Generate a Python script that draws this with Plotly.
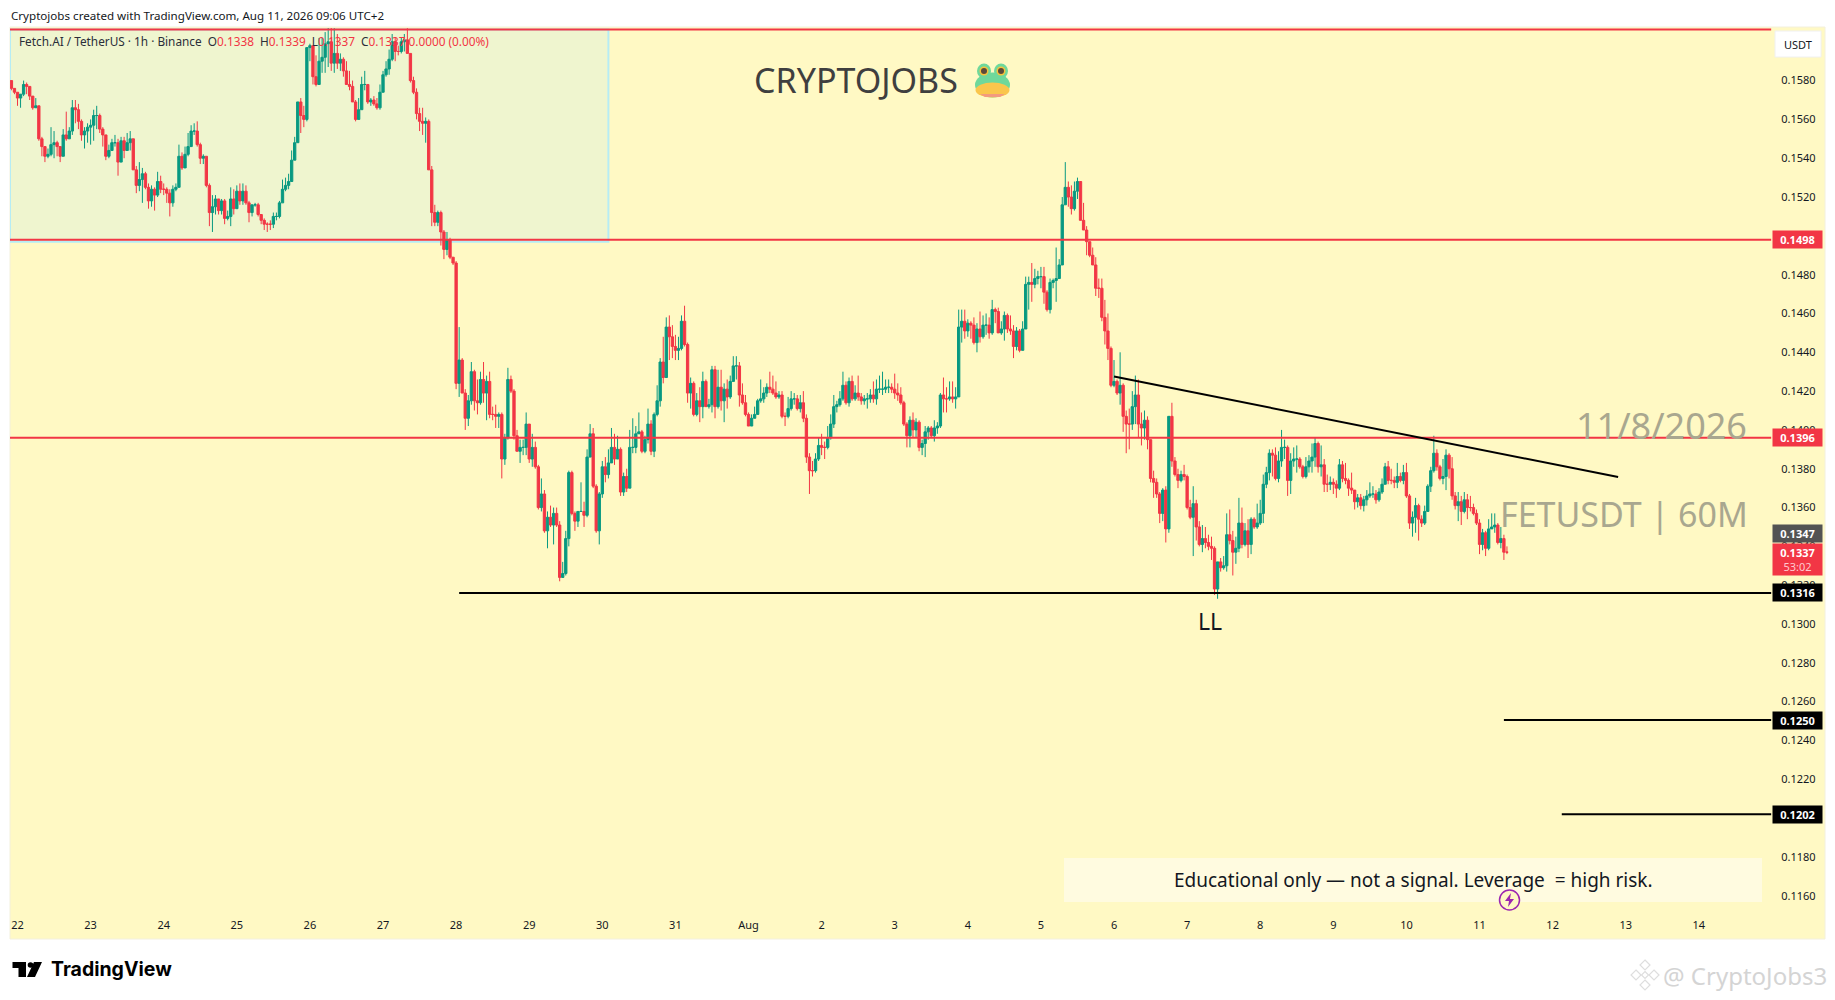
import plotly.graph_objects as go
from datetime import datetime, timedelta

first_open = .1580
start_time = datetime(2026, 7, 21, 22, 0)

close_a = [.1576,.1574,.1571,.1573,.1578,.1577,.1572,.1566,.1567,.1550,
 .1546,.1541,.1542,.1547,.1548,.1546,.1541,.1552,.1550,.1554,
 .1566,.1565,.1559,.1552,.1554,.1556,.1557,.1562,.1562,.1555,
 .1552,.1541,.1544,.1548,.1548,.1538,.1549,.1544,.1548,.1550,
 .1534,.1526,.1529,.1532,.1525,.1518,.1524,.1521,.1528,.1524,
 .1524,.1522,.1517,.1524,.1525,.1541,.1535,.1542,.1546,.1554,
 .1554,.1547,.1540,.1541,.1526,.1512,.1515,.1519,.1513,.1518,
 .1509,.1510,.1519,.1514,.1523,.1518,.1523,.1517,.1512,.1516,
 .1516,.1511,.1508,.1506,.1506,.1506,.1510,.1510,.1517,.1524,
 .1526,.1528,.1539,.1548,.1569,.1562,.1560,.1597,.1598,.1582,
 .1578,.1590,.1592,.1599,.1600,.1589,.1594,.1589,.1591,.1585,
 .1578,.1577,.1569,.1560,.1565,.1578,.1578,.1569,.1570,.1568,
 .1566,.1574,.1583,.1586,.1591,.1600,.1595,.1595,.1600,.1601,
 .1594,.1580,.1574,.1563,.1559,.1558,.1559,.1534,.1512,.1507,
 .1512,.1502,.1493,.1498,.1489,.1486]
high_a = [.1580,.1576,.1574,.1573,.1580,.1579,.1577,.1572,.1571,.1567,
 .1551,.1546,.1545,.1556,.1554,.1549,.1546,.1555,.1564,.1556,
 .1570,.1570,.1568,.1560,.1556,.1558,.1560,.1565,.1567,.1563,
 .1556,.1552,.1547,.1550,.1552,.1550,.1551,.1551,.1553,.1554,
 .1550,.1536,.1538,.1535,.1533,.1527,.1526,.1525,.1533,.1531,
 .1527,.1525,.1524,.1526,.1527,.1547,.1543,.1546,.1553,.1557,
 .1558,.1559,.1548,.1542,.1540,.1527,.1521,.1521,.1519,.1519,
 .1519,.1513,.1525,.1524,.1526,.1527,.1527,.1526,.1518,.1516,
 .1517,.1517,.1510,.1509,.1507,.1508,.1512,.1512,.1518,.1529,
 .1530,.1532,.1544,.1551,.1569,.1571,.1567,.1597,.1599,.1598,
 .1593,.1602,.1602,.1605,.1608,.1608,.1607,.1604,.1594,.1592,
 .1590,.1585,.1580,.1570,.1571,.1582,.1585,.1578,.1571,.1572,
 .1571,.1578,.1585,.1590,.1596,.1604,.1602,.1598,.1602,.1604,
 .1607,.1594,.1582,.1576,.1566,.1566,.1561,.1560,.1536,.1516,
 .1513,.1513,.1503,.1502,.1499,.1489]
low_a = [.1575,.1573,.1567,.1566,.1572,.1573,.1570,.1565,.1566,.1549,
 .1541,.1538,.1540,.1541,.1540,.1541,.1538,.1541,.1549,.1550,
 .1552,.1558,.1555,.1549,.1545,.1548,.1547,.1549,.1555,.1553,
 .1546,.1539,.1540,.1544,.1546,.1531,.1541,.1540,.1544,.1544,
 .1534,.1522,.1523,.1517,.1524,.1514,.1515,.1513,.1520,.1522,
 .1521,.1517,.1510,.1515,.1523,.1525,.1534,.1535,.1541,.1546,
 .1552,.1546,.1537,.1537,.1525,.1505,.1502,.1511,.1511,.1511,
 .1506,.1508,.1505,.1511,.1515,.1516,.1516,.1516,.1507,.1510,
 .1515,.1510,.1506,.1503,.1502,.1503,.1504,.1508,.1509,.1517,
 .1523,.1524,.1528,.1539,.1548,.1553,.1556,.1559,.1590,.1578,
 .1577,.1578,.1584,.1584,.1587,.1585,.1584,.1586,.1585,.1582,
 .1578,.1575,.1569,.1559,.1560,.1565,.1575,.1568,.1567,.1567,
 .1565,.1565,.1574,.1582,.1583,.1590,.1590,.1593,.1594,.1595,
 .1594,.1579,.1573,.1560,.1554,.1552,.1548,.1534,.1505,.1505,
 .1505,.1495,.1488,.1490,.1488,.1485]

close_b = [.1424,.1436,.1419,.1406,.1415,.1430,.1415,.1414,.1426,.1419,
 .1425,.1408,.1408,.1407,.1408,.1385,.1396,.1426,.1420,.1397,
 .1389,.1391,.1391,.1403,.1385,.1391,.1381,.1360,.1367,.1348,
 .1355,.1351,.1357,.1351,.1324,.1326,.1344,.1378,.1357,.1353,
 .1358,.1358,.1356,.1386,.1398,.1371,.1348,.1367,.1381,.1377,
 .1383,.1391,.1385,.1390,.1368,.1376,.1370,.1391,.1391,.1398,
 .1399,.1389,.1395,.1403,.1389,.1408,.1415,.1435,.1427,.1453,
 .1448,.1443,.1441,.1442,.1456,.1444,.1419,.1424,.1408,.1415,
 .1412,.1425,.1412,.1413,.1431,.1412,.1422,.1415,.1421,.1417,
 .1425,.1433,.1433,.1418,.1414,.1408,.1402,.1406,.1408,.1415,
 .1416,.1419,.1422,.1421,.1419,.1417,.1418,.1407,.1407,.1411,
 .1416,.1416,.1411,.1414,.1406,.1386,.1379,.1379,.1385,.1392,
 .1391,.1391,.1396,.1403,.1412,.1413,.1416,.1423,.1414,.1425,
 .1416,.1419,.1417,.1415,.1416,.1416,.1418,.1416,.1421,.1421,
 .1421,.1422,.1422,.1421,.1419,.1418,.1414,.1403,.1397,.1405,
 .1400,.1404,.1391,.1393,.1399,.1401,.1397,.1401,.1402,.1418,
 .1416,.1416,.1417,.1416,.1417,.1453,.1456,.1451,.1455,.1454,
 .1445,.1452,.1448,.1454,.1454,.1450,.1462,.1461,.1450,.1452,
 .1459,.1452,.1451,.1443,.1451,.1441,.1452,.1475,.1476,.1475,.1478,.1479]
high_b = [.1487,.1453,.1437,.1421,.1418,.1435,.1431,.1426,.1430,.1435,
 .1428,.1430,.1412,.1413,.1409,.1409,.1398,.1432,.1428,.1421,
 .1400,.1395,.1395,.1409,.1403,.1398,.1394,.1382,.1375,.1369,
 .1358,.1361,.1360,.1360,.1353,.1332,.1348,.1379,.1379,.1358,
 .1358,.1373,.1363,.1390,.1403,.1401,.1372,.1368,.1384,.1386,
 .1390,.1401,.1398,.1397,.1391,.1378,.1380,.1400,.1406,.1402,
 .1409,.1400,.1397,.1411,.1405,.1409,.1423,.1437,.1448,.1458,
 .1459,.1454,.1449,.1448,.1459,.1464,.1445,.1427,.1425,.1419,
 .1422,.1430,.1426,.1416,.1433,.1433,.1431,.1431,.1424,.1426,
 .1428,.1438,.1438,.1435,.1424,.1418,.1409,.1408,.1412,.1416,
 .1426,.1422,.1424,.1430,.1428,.1425,.1420,.1420,.1409,.1417,
 .1420,.1419,.1418,.1418,.1420,.1408,.1388,.1384,.1388,.1396,
 .1398,.1394,.1402,.1408,.1418,.1415,.1420,.1430,.1425,.1427,
 .1428,.1423,.1428,.1419,.1418,.1419,.1421,.1425,.1426,.1428,
 .1430,.1426,.1426,.1424,.1429,.1424,.1422,.1415,.1404,.1407,
 .1409,.1406,.1405,.1395,.1402,.1402,.1402,.1405,.1404,.1419,
 .1427,.1422,.1425,.1425,.1422,.1462,.1462,.1462,.1457,.1456,
 .1458,.1455,.1461,.1459,.1460,.1458,.1467,.1463,.1463,.1456,
 .1461,.1460,.1459,.1454,.1453,.1452,.1456,.1479,.1479,.1486,.1483,.1482]
low_b = [.1421,.1417,.1419,.1400,.1402,.1413,.1410,.1408,.1413,.1414,
 .1405,.1406,.1405,.1401,.1401,.1375,.1382,.1395,.1419,.1395,
 .1389,.1383,.1387,.1387,.1383,.1381,.1380,.1359,.1358,.1347,
 .1339,.1350,.1341,.1350,.1322,.1324,.1325,.1340,.1356,.1348,
 .1350,.1358,.1350,.1355,.1386,.1370,.1347,.1341,.1365,.1373,
 .1375,.1384,.1382,.1385,.1366,.1366,.1368,.1370,.1388,.1388,
 .1398,.1388,.1388,.1393,.1387,.1386,.1407,.1412,.1424,.1427,
 .1436,.1437,.1436,.1436,.1441,.1443,.1414,.1411,.1407,.1407,
 .1404,.1406,.1412,.1411,.1409,.1406,.1411,.1410,.1404,.1411,
 .1416,.1425,.1426,.1412,.1413,.1407,.1402,.1402,.1406,.1408,
 .1414,.1414,.1417,.1419,.1418,.1416,.1416,.1406,.1402,.1406,
 .1410,.1413,.1410,.1409,.1404,.1383,.1367,.1376,.1378,.1384,
 .1387,.1385,.1390,.1395,.1401,.1409,.1412,.1415,.1413,.1412,
 .1415,.1415,.1415,.1413,.1413,.1411,.1414,.1414,.1413,.1419,
 .1418,.1419,.1419,.1419,.1416,.1415,.1413,.1402,.1391,.1391,
 .1396,.1396,.1389,.1387,.1386,.1395,.1396,.1394,.1398,.1401,
 .1409,.1409,.1415,.1414,.1411,.1417,.1445,.1447,.1448,.1447,
 .1444,.1440,.1445,.1447,.1449,.1447,.1449,.1455,.1450,.1449,
 .1446,.1450,.1449,.1437,.1441,.1440,.1441,.1452,.1462,.1466,.1473,.1475]

close_c = [.1479,.1471,.1462,.1476,.1477,.1478,.1485,.1516,.1525,.1520,
 .1514,.1523,.1528,.1508,.1503,.1497,.1490,.1485,.1473,.1473,
 .1458,.1451,.1442,.1423,.1425,.1419,.1423,.1407,.1403,.1403,
 .1412,.1418,.1403,.1401,.1405,.1395,.1375,.1373,.1367,.1357,
 .1369,.1349,.1407,.1384,.1377,.1374,.1377,.1376,.1360,.1355,
 .1362,.1350,.1341,.1344,.1342,.1340,.1339,.1318,.1332,.1329,
 .1330,.1346,.1343,.1337,.1339,.1352,.1341,.1348,.1341,.1354,
 .1350,.1352,.1357,.1372,.1378,.1388,.1387,.1375,.1384,.1391,
 .1391,.1374,.1384,.1385,.1385,.1381,.1376,.1381,.1384,.1386,
 .1393,.1381,.1382,.1372,.1372,.1373,.1372,.1370,.1382,.1375,
 .1374,.1370,.1369,.1363,.1365,.1361,.1364,.1366,.1367,.1367,
 .1364,.1368,.1372,.1381,.1374,.1374,.1373,.1376,.1374,.1378,
 .1366,.1352,.1355,.1361,.1354,.1352,.1358,.1371,.1379,.1388,
 .1381,.1375,.1376,.1387,.1380,.1366,.1361,.1363,.1358,.1364,
 .1360,.1360,.1357,.1352,.1341,.1347,.1339,.1349,.1350,.1351,
 .1342,.1344,.1337,.1337]
high_c = [.1484,.1484,.1472,.1478,.1478,.1494,.1488,.1520,.1538,.1528,
 .1526,.1528,.1530,.1528,.1517,.1505,.1497,.1494,.1489,.1478,
 .1478,.1467,.1460,.1443,.1436,.1426,.1440,.1424,.1410,.1411,
 .1420,.1428,.1426,.1409,.1410,.1407,.1395,.1379,.1375,.1368,
 .1370,.1371,.1407,.1414,.1386,.1380,.1379,.1382,.1377,.1364,
 .1371,.1364,.1353,.1351,.1350,.1346,.1345,.1340,.1332,.1334,
 .1335,.1357,.1359,.1348,.1345,.1365,.1360,.1352,.1354,.1355,
 .1355,.1362,.1364,.1377,.1381,.1390,.1390,.1391,.1389,.1400,
 .1395,.1392,.1388,.1391,.1392,.1386,.1382,.1386,.1387,.1393,
 .1396,.1394,.1392,.1385,.1377,.1376,.1375,.1374,.1385,.1384,
 .1383,.1375,.1378,.1369,.1367,.1367,.1366,.1369,.1373,.1371,
 .1369,.1370,.1375,.1383,.1384,.1380,.1376,.1383,.1378,.1382,
 .1383,.1367,.1358,.1365,.1362,.1356,.1361,.1372,.1381,.1397,
 .1390,.1382,.1385,.1390,.1388,.1386,.1368,.1368,.1366,.1368,
 .1367,.1366,.1362,.1359,.1354,.1349,.1348,.1354,.1357,.1357,
 .1352,.1350,.1346,.1340]
low_c = [.1473,.1465,.1461,.1460,.1473,.1466,.1478,.1485,.1516,.1515,
 .1511,.1513,.1519,.1508,.1503,.1490,.1489,.1485,.1469,.1468,
 .1456,.1444,.1436,.1422,.1422,.1418,.1413,.1399,.1388,.1390,
 .1400,.1403,.1396,.1392,.1395,.1390,.1373,.1365,.1365,.1352,
 .1353,.1342,.1347,.1381,.1376,.1370,.1373,.1374,.1359,.1354,
 .1335,.1343,.1340,.1337,.1339,.1338,.1333,.1315,.1313,.1327,
 .1328,.1327,.1341,.1325,.1331,.1337,.1339,.1340,.1334,.1336,
 .1349,.1349,.1351,.1352,.1370,.1374,.1376,.1374,.1373,.1381,
 .1385,.1366,.1367,.1381,.1378,.1380,.1375,.1375,.1378,.1378,
 .1381,.1378,.1376,.1368,.1368,.1369,.1367,.1365,.1369,.1373,
 .1372,.1366,.1367,.1359,.1360,.1359,.1358,.1361,.1365,.1365,
 .1362,.1363,.1367,.1372,.1372,.1372,.1370,.1370,.1373,.1372,
 .1365,.1349,.1345,.1347,.1343,.1350,.1351,.1358,.1368,.1378,
 .1379,.1374,.1372,.1369,.1375,.1364,.1359,.1353,.1351,.1357,
 .1354,.1358,.1356,.1351,.1336,.1338,.1335,.1338,.1349,.1347,
 .1341,.1339,.1333,.1336]

day_labels = ["22","23","24","25","26","27","28","29","30","31","Aug","2","3","4","5","6","7","8","9","10","11","12","13","14"]
price_ticks = [.116,.118,.120,.122,.124,.126,.128,.130,.132,.134,.136,.138,.140,.142,.144,.146,.148,.150,.152,.154,.156,.158]
red_levels = [.16063,.1498,.1396]
red_tags = [.1498,.1396]
black_levels = [.1316,.12505,.1202]
black_tags = ["0.1316","0.1250","0.1202"]
black_starts = [datetime(2026,7,28,1,0),datetime(2026,8,11,8,0),datetime(2026,8,12,3,0)]
trend_times = [datetime(2026,8,6,0,0),datetime(2026,8,12,21,30)]
trend_prices = [.14275,.13757]
box_price = [.16063,.1497]
box_end = datetime(2026,7,30,2,0)

PL, PR, PT, PB = 10, 1773, 28, 912
W, H = 1835, 1000
def px(x): return (x-PL)/(PR-PL)
def py(y): return (PB-y)/(PB-PT)

UP, DOWN = "#089981", "#F23645"
BG = "#FFF9C4"
FONT = "Noto Sans"

closes = close_a + close_b + close_c
highs = high_a + high_b + high_c
lows = low_a + low_b + low_c
opens = [first_open] + closes[:-1]
times = [start_time + timedelta(hours=i) for i in range(len(closes))]
highs = [max(h,o,c) for h,o,c in zip(highs,opens,closes)]
lows = [min(l,o,c) for l,o,c in zip(lows,opens,closes)]
day0 = datetime(2026,7,22)
day_ticks = [day0 + timedelta(days=i) for i in range(len(day_labels))]

fig = go.Figure(go.Candlestick(
    x=times, open=opens, high=highs, low=lows, close=closes, whiskerwidth=0,
    increasing=dict(line=dict(color=UP, width=1), fillcolor=UP),
    decreasing=dict(line=dict(color=DOWN, width=1), fillcolor=DOWN),
    hoverinfo="skip", showlegend=False))

shapes = []
def rect_px(x0,y0,x1,y1,fill,line=None,lw=0,layer="below"):
    shapes.append(dict(type="rect",xref="paper",yref="paper",x0=px(x0),x1=px(x1),y0=py(y0),y1=py(y1),
        fillcolor=fill,line=dict(color=line or fill,width=lw),layer=layer))
def circ_px(cx,cy,rx,ry,fill,line=None,lw=0,layer="above"):
    shapes.append(dict(type="circle",xref="paper",yref="paper",x0=px(cx-rx),x1=px(cx+rx),y0=py(cy-ry),y1=py(cy+ry),
        fillcolor=fill,line=dict(color=line or fill,width=lw),layer=layer))
def path_px(pts,fill,line=None,lw=0,layer="above"):
    d = "M "+" L ".join(f"{px(a):.5f},{py(b):.5f}" for a,b in pts)+" Z"
    shapes.append(dict(type="path",xref="paper",yref="paper",path=d,fillcolor=fill,
        line=dict(color=line or fill,width=lw),layer=layer))

rect_px(10,27,1825,939,BG,"#F3F0DC",1)
x_left = datetime(2026,7,21,21,32)
shapes.append(dict(type="rect",xref="x",yref="y",x0=x_left,x1=box_end,y0=box_price[1],y1=box_price[0],
    fillcolor="#EFF5CF",line=dict(color="#B5ECF5",width=2),layer="below"))
x_right = datetime(2026,8,15,0,21)
x_line_end = datetime(2026,8,14,23,45)
for lv in red_levels:
    shapes.append(dict(type="line",xref="x",yref="y",x0=x_left,x1=x_line_end,y0=lv,y1=lv,line=dict(color=DOWN,width=2)))
for lv,st in zip(black_levels,black_starts):
    shapes.append(dict(type="line",xref="x",yref="y",x0=st,x1=x_line_end,y0=lv,y1=lv,line=dict(color="#000000",width=2)))
shapes.append(dict(type="line",xref="x",yref="y",x0=trend_times[0],x1=trend_times[1],y0=trend_prices[0],y1=trend_prices[1],
    line=dict(color="#000000",width=2)))

rect_px(1064,858,1762,902,"#FFFBE0",layer="below")
circ_px(1509.5,900,10,10,"#FFF9C4","#9C27B0",1.5)
path_px([(1511,893),(1505,901),(1509,901),(1508,907),(1514,899),(1510,899)],"#9C27B0")
circ_px(984,71,7,7.5,"#6FD89B")
circ_px(1001,71,7,7.5,"#6FD89B")
circ_px(992.5,85,17.5,12.5,"#6FD89B")
circ_px(992.5,90,17,7.5,"#FAC64C")
path_px([(980,94),(1005,94),(1000,97),(985,97)],"#F39A7E")
circ_px(984,71,4.5,4.5,"#F7C23C")
circ_px(1001,71,4.5,4.5,"#F7C23C")
circ_px(984,71,3,3,"#5B4A3A")
circ_px(1001,71,3,3,"#5B4A3A")
path_px([(12.5,962),(26,962),(26,977),(18.5,977),(18.5,968),(12.5,968)],"#000000")
circ_px(30.5,965,2.8,2.8,"#000000")
path_px([(34,962),(42,962),(35,977),(27,977)],"#000000")
for cx,cy,r in [(1645,965,5),(1636,975,5),(1654,975,5),(1645,985,5),(1645,975,3.5)]:
    path_px([(cx,cy-r),(cx+r,cy),(cx,cy+r),(cx-r,cy)],"#FFFFFF","#DEDEDE",1.2)

ann = []
def text_px(x,y,t,size,color,anchor="left",font=FONT,bold=False):
    ann.append(dict(xref="paper",yref="paper",x=px(x),y=py(y),text=("<b>"+t+"</b>") if bold else t,showarrow=False,
        xanchor=anchor,yanchor="middle",borderpad=0,font=dict(family=font,size=size,color=color)))
def tag(price,txt,bg,y=None,h=17):
    ann.append(dict(xref="paper",yref="y" if y is None else "paper",x=px(1772),y=price if y is None else py(y),
        text=txt,showarrow=False,xanchor="left",yanchor="middle",width=49,height=h,bgcolor=bg,borderpad=0,align="center",
        font=dict(family=FONT,size=11,color="#FFFFFF")))

text_px(10,15,"Cryptojobs created with TradingView.com, Aug 11, 2026 09:06 UTC+2",11.6,"#131722")
R = "<span style='color:#F23645'>%s</span>"
text_px(18,41,"Fetch.AI / TetherUS · 1h · Binance  O"+R%"0.1338"+"  H"+R%"0.1339"+"  L"+R%"0.1337"+"  C"+R%"0.1337"+" "+R%"0.0000 (0.00%)",11.8,"#2A2E39")
text_px(753,80,"CRYPTOJOBS",34,"#3F3F3F")
text_px(1748,426,"11/8/2026",36,"#A9A78F",anchor="right")
text_px(1749,514,"FETUSDT | 60M",34,"#A9A78F",anchor="right")
text_px(1210,621,"LL",23,"#131722",anchor="center")
text_px(1413,880,"Educational only — not a signal. Leverage  = high risk.",19,"#131722",anchor="center")
text_px(50,969,"TradingView",19.5,"#000000",font="Inter",bold=True)
text_px(1662,975,"@ CryptoJobs3",24,"#D4D4D4")

for lv in red_tags:
    tag(lv,f"<b>{lv:.4f}</b>",DOWN)
for lv,t in zip(black_levels,black_tags):
    tag(lv,f"<b>{t}</b>","#000000")
tag(None,"<b>0.1347</b>","#535353",y=533.5)
ann.append(dict(xref="paper",yref="paper",x=px(1772),y=py(559.5),showarrow=False,xanchor="left",yanchor="middle",width=49,height=31,
    bgcolor=DOWN,borderpad=0,align="center",text="<b>0.1337</b><br><span style='color:#FFC9CF'>53:02</span>",
    font=dict(family=FONT,size=11,color="#FFFFFF")))
rect_px(1775,31,1821,57,"#FFFFFF","#F0F0F0",1,layer="above")
text_px(1798,44.5,"USDT",11,"#131722",anchor="center")

fig.update_layout(
    width=W, height=H, margin=dict(l=PL,r=W-PR,t=PT,b=H-PB,pad=0),
    paper_bgcolor="#FFFFFF", plot_bgcolor="rgba(0,0,0,0)",
    shapes=shapes, annotations=ann, showlegend=False, boxgap=.24, boxgroupgap=0,
    xaxis=dict(type="date",range=[x_left,x_right],rangeslider=dict(visible=False),showgrid=False,zeroline=False,showline=False,
        tickmode="array",tickvals=day_ticks,ticktext=day_labels,ticks="outside",ticklen=3,tickcolor="rgba(0,0,0,0)",
        tickfont=dict(family=FONT,size=11,color="#131722")),
    yaxis=dict(side="right",range=[.11516,.16071],showgrid=False,zeroline=False,showline=False,
        tickmode="array",tickvals=price_ticks,tickformat=".4f",ticks="outside",ticklen=5,tickcolor="rgba(0,0,0,0)",
        tickfont=dict(family=FONT,size=11,color="#131722")),
)
fig.write_html("out.html", config=dict(displayModeBar=False),
    post_script="document.body.style.margin='0';document.body.style.overflow='hidden';")
